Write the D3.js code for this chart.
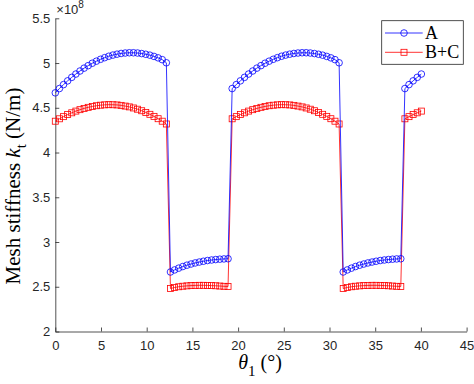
<!DOCTYPE html>
<html>
 <head>
 <meta charset="UTF-8">
 <title>Mesh stiffness</title>
 <style type="text/css">
   body { margin: 0; background: #fff; }
   text { font-family: "Liberation Sans", Arial, sans-serif; }
   .serif { font-family: "Liberation Serif", "Times New Roman", serif; }
 </style>
 <script src="https://d3js.org/d3.v7.min.js"></script>
 </head>
 <body>
 <script type="text/javascript">

    // angle theta_1 (deg), one array per segment joined below
    var theta = [0, 0.45, 0.9, 1.35, 1.8, 2.25, 2.7, 3.15, 3.6, 4.05, 4.5, 4.95, 5.4, 5.85, 6.3, 6.75, 7.2, 7.65, 8.1, 8.55, 9.0, 9.45, 9.9, 10.35, 10.8, 11.25, 11.7, 12.15,
        12.6, 13.05, 13.5, 13.95, 14.4, 14.85, 15.3, 15.75, 16.2, 16.65, 17.1, 17.55, 18.0, 18.45, 18.9,
        19.35, 19.8, 20.25, 20.7, 21.15, 21.6, 22.05, 22.5, 22.95, 23.4, 23.85, 24.3, 24.75, 25.2, 25.65, 26.1, 26.55, 27.0, 27.45, 27.9, 28.35, 28.8, 29.25, 29.7, 30.15, 30.6, 31.05,
        31.5, 31.95, 32.4, 32.85, 33.3, 33.75, 34.2, 34.65, 35.1, 35.55, 36.0, 36.45, 36.9, 37.35, 37.8,
        38.25, 38.7, 39.15, 39.6, 40.05];

    // series A (x1e8 N/m)
    var valuesA = [4.667, 4.715, 4.759, 4.801, 4.840, 4.877, 4.911, 4.943, 4.971, 4.998, 5.021, 5.042, 5.060, 5.076, 5.089, 5.099, 5.107, 5.112, 5.115, 5.115, 5.112, 5.106, 5.098, 5.088, 5.074, 5.058, 5.038, 5.003,
        2.665, 2.688, 2.708, 2.726, 2.741, 2.754, 2.766, 2.776, 2.785, 2.793, 2.799, 2.804, 2.808, 2.811, 2.813,
        4.715, 4.759, 4.801, 4.840, 4.877, 4.911, 4.943, 4.971, 4.998, 5.021, 5.042, 5.060, 5.076, 5.089, 5.099, 5.107, 5.112, 5.115, 5.115, 5.112, 5.106, 5.098, 5.088, 5.074, 5.058, 5.038, 5.003,
        2.665, 2.688, 2.708, 2.726, 2.741, 2.754, 2.766, 2.776, 2.785, 2.793, 2.799, 2.804, 2.808, 2.811, 2.813,
        4.715, 4.759, 4.801, 4.840, 4.877];

    // series B+C (x1e8 N/m)
    var valuesBC = [4.350, 4.377, 4.401, 4.424, 4.444, 4.463, 4.479, 4.493, 4.505, 4.515, 4.523, 4.529, 4.533, 4.535, 4.534, 4.532, 4.527, 4.519, 4.510, 4.498, 4.484, 4.467, 4.448, 4.427, 4.404, 4.378, 4.350, 4.319,
        2.480, 2.492, 2.500, 2.506, 2.510, 2.513, 2.515, 2.516, 2.516, 2.515, 2.513, 2.511, 2.508, 2.505, 2.503,
        4.377, 4.401, 4.424, 4.444, 4.463, 4.479, 4.493, 4.505, 4.515, 4.523, 4.529, 4.533, 4.535, 4.534, 4.532, 4.527, 4.519, 4.510, 4.498, 4.484, 4.467, 4.448, 4.427, 4.404, 4.378, 4.350, 4.319,
        2.480, 2.492, 2.500, 2.506, 2.510, 2.513, 2.515, 2.516, 2.516, 2.515, 2.513, 2.511, 2.508, 2.505, 2.503,
        4.377, 4.401, 4.424, 4.444, 4.463];

    var xTicks = [0, 5, 10, 15, 20, 25, 30, 35, 40, 45];
    var yTicks = [2, 2.5, 3, 3.5, 4, 4.5, 5, 5.5];
    var seriesNames = ["A", "B+C"];

    var width = 474, height = 384;
    var margin = {top: 18.3, right: 7.4, bottom: 52.5, left: 55.3};
    var axisColor = "#262626";

    var x = d3.scaleLinear().domain([0, 45]).range([margin.left, width - margin.right]);
    var y = d3.scaleLinear().domain([2, 5.5]).range([height - margin.bottom, margin.top]);

    var svg = d3.select("body").append("svg")
        .attr("width", width)
        .attr("height", height);

    // axes (MATLAB-like, ticks pointing inward)
    var xAxis = svg.append("g")
        .attr("transform", "translate(0," + y(2) + ")")
        .call(d3.axisBottom(x).tickValues(xTicks).tickSizeInner(-4).tickSizeOuter(0).tickPadding(9));
    var yAxis = svg.append("g")
        .attr("transform", "translate(" + x(0) + ",0)")
        .call(d3.axisLeft(y).tickValues(yTicks).tickSizeInner(-4).tickSizeOuter(0).tickPadding(5).tickFormat(d3.format("")));

    [xAxis, yAxis].forEach(function(g) {
        g.select(".domain").attr("stroke", axisColor).attr("stroke-width", 0.8);
        g.selectAll(".tick line").attr("stroke", axisColor).attr("stroke-width", 0.8);
        g.selectAll(".tick text").attr("fill", axisColor).style("font-size", "13px")
            .style("font-family", "'Liberation Sans', Arial, sans-serif");
    });

    // exponent label
    var expo = svg.append("text")
        .attr("x", x(0) + 1)
        .attr("y", 14)
        .attr("fill", axisColor)
        .style("font-size", "13px");
    expo.append("tspan").text("\u00d710");
    expo.append("tspan").attr("dy", -6).style("font-size", "10px").text("8");

    var pts = theta.map(function(t, i) { return {t: t, a: valuesA[i], bc: valuesBC[i]}; });

    var lineA = d3.line().x(function(d) { return x(d.t); }).y(function(d) { return y(d.a); });
    var lineBC = d3.line().x(function(d) { return x(d.t); }).y(function(d) { return y(d.bc); });

    // B+C series
    svg.append("path").attr("d", lineBC(pts))
        .attr("fill", "none").attr("stroke", "red").attr("stroke-width", 0.8);
    svg.append("g").selectAll("rect").data(pts).enter().append("rect")
        .attr("x", function(d) { return x(d.t) - 3; })
        .attr("y", function(d) { return y(d.bc) - 3; })
        .attr("width", 6).attr("height", 6)
        .attr("fill", "none").attr("stroke", "red").attr("stroke-width", 0.8);

    // A series
    svg.append("path").attr("d", lineA(pts))
        .attr("fill", "none").attr("stroke", "blue").attr("stroke-width", 0.8);
    svg.append("g").selectAll("circle").data(pts).enter().append("circle")
        .attr("cx", function(d) { return x(d.t); })
        .attr("cy", function(d) { return y(d.a); })
        .attr("r", 3.3)
        .attr("fill", "none").attr("stroke", "blue").attr("stroke-width", 0.8);

    // axis titles
    var ylab = svg.append("text")
        .attr("class", "serif")
        .attr("transform", "translate(20," + 186 + ") rotate(-90)")
        .attr("text-anchor", "middle")
        .attr("fill", "#000")
        .style("font-size", "21px");
    ylab.append("tspan").text("Mesh stiffness ");
    ylab.append("tspan").style("font-style", "italic").text("k");
    ylab.append("tspan").attr("dy", 6).style("font-size", "15px").text("t");
    ylab.append("tspan").attr("dy", -6).text(" (N/m)");

    var xlab = svg.append("text")
        .attr("class", "serif")
        .attr("x", 260)
        .attr("y", 369)
        .attr("text-anchor", "middle")
        .attr("fill", "#000")
        .style("font-size", "20px");
    xlab.append("tspan").style("font-style", "italic").text("\u03b8");
    xlab.append("tspan").attr("dy", 7).style("font-size", "15px").text("1");
    xlab.append("tspan").attr("dy", -7).text(" (\u00b0)");

    // legend
    var lg = svg.append("g");
    lg.append("rect")
        .attr("x", 381.7).attr("y", 20.7).attr("width", 81.6).attr("height", 43.6)
        .attr("fill", "#fff").attr("stroke", axisColor).attr("stroke-width", 0.8);
    var colors = ["blue", "red"];
    seriesNames.forEach(function(name, i) {
        var yy = 33 + i * 19.3;
        lg.append("line").attr("x1", 385).attr("x2", 422.7).attr("y1", yy).attr("y2", yy)
            .attr("stroke", colors[i]).attr("stroke-width", 0.8);
        if (i === 0) {
            lg.append("circle").attr("cx", 404).attr("cy", yy).attr("r", 3.3)
                .attr("fill", "none").attr("stroke", colors[i]).attr("stroke-width", 0.8);
        } else {
            lg.append("rect").attr("x", 401).attr("y", yy - 3).attr("width", 6).attr("height", 6)
                .attr("fill", "none").attr("stroke", colors[i]).attr("stroke-width", 0.8);
        }
        lg.append("text").attr("class", "serif")
            .attr("x", 425).attr("y", yy + 6)
            .attr("fill", "#000")
            .style("font-size", "18px")
            .text(name);
    });

 </script>
 </body>
</html>
